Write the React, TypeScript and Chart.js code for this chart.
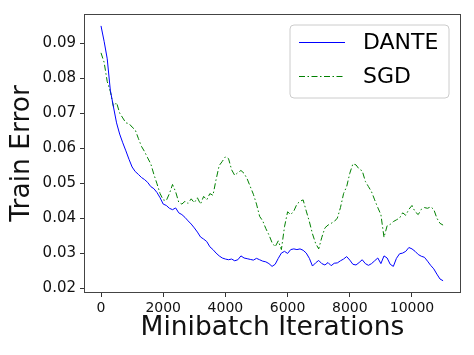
import React, { useEffect, useRef } from "react";
import { Chart, registerables } from "chart.js";

Chart.register(...registerables);

const ITERATIONS = [
  0, 100, 200, 300, 400, 500, 600, 700, 800, 900,
  1000, 1100, 1200, 1300, 1400, 1500, 1600, 1700, 1800, 1900,
  2000, 2100, 2200, 2300, 2400, 2500, 2600, 2700, 2800, 2900,
  3000, 3100, 3200, 3300, 3400, 3500, 3600, 3700, 3800, 3900,
  4000, 4100, 4200, 4300, 4400, 4500, 4600, 4700, 4800, 4900,
  5000, 5100, 5200, 5300, 5400, 5500, 5600, 5700, 5800, 5900,
  6000, 6100, 6200, 6300, 6400, 6500, 6600, 6700, 6800, 6900,
  7000, 7100, 7200, 7300, 7400, 7500, 7600, 7700, 7800, 7900,
  8000, 8100, 8200, 8300, 8400, 8500, 8600, 8700, 8800, 8900,
  9000, 9100, 9200, 9300, 9400, 9500, 9600, 9700, 9800, 9900,
  10000, 10100, 10200, 10300, 10400, 10500, 10600, 10700, 10800, 10900,
  11000,
];

const DANTE = [
  0.0949, 0.0905, 0.0855, 0.0765, 0.0718, 0.0672, 0.0640, 0.0615, 0.0592, 0.0568,
  0.0546, 0.0533, 0.0525, 0.0516, 0.0510, 0.0502, 0.0490, 0.0484, 0.0473, 0.0458,
  0.0440, 0.0436, 0.0428, 0.0424, 0.0429, 0.0415, 0.0410, 0.0402, 0.0392, 0.0383,
  0.0372, 0.0360, 0.0346, 0.0340, 0.0333, 0.0318, 0.0310, 0.0300, 0.0292, 0.0286,
  0.0283, 0.0281, 0.0283, 0.0278, 0.0281, 0.0292, 0.0286, 0.0284, 0.0282, 0.0280,
  0.0285, 0.0281, 0.0277, 0.0275, 0.0270, 0.0262, 0.0268, 0.0285, 0.0300, 0.0305,
  0.0299, 0.0310, 0.0312, 0.0310, 0.0312, 0.0308, 0.0300, 0.0285, 0.0263, 0.0272,
  0.0279, 0.0270, 0.0266, 0.0273, 0.0264, 0.0271, 0.0272, 0.0278, 0.0283, 0.0290,
  0.0280, 0.0268, 0.0266, 0.0273, 0.0281, 0.0270, 0.0265, 0.0270, 0.0278, 0.0286,
  0.0270, 0.0292, 0.0286, 0.0268, 0.0262, 0.0285, 0.0298, 0.0300, 0.0305, 0.0316,
  0.0312, 0.0305, 0.0296, 0.0291, 0.0288, 0.0277, 0.0265, 0.0255, 0.0240, 0.0226,
  0.0221,
];

const SGD = [
  0.0872, 0.0845, 0.0790, 0.0762, 0.0718, 0.0730, 0.0700, 0.0686, 0.0672, 0.0670,
  0.0660, 0.0652, 0.0628, 0.0605, 0.0590, 0.0572, 0.0555, 0.0525, 0.0498, 0.0470,
  0.0452, 0.0450, 0.0470, 0.0496, 0.0475, 0.0445, 0.0440, 0.0448, 0.0442, 0.0455,
  0.0444, 0.0458, 0.0440, 0.0462, 0.0452, 0.0470, 0.0465, 0.0510, 0.0550, 0.0562,
  0.0575, 0.0570, 0.0538, 0.0522, 0.0530, 0.0536, 0.0528, 0.0512, 0.0490, 0.0468,
  0.0440, 0.0405, 0.0392, 0.0370, 0.0352, 0.0330, 0.0318, 0.0335, 0.0310, 0.0375,
  0.0418, 0.0410, 0.0420, 0.0440, 0.0448, 0.0452, 0.0420, 0.0390, 0.0355, 0.0328,
  0.0312, 0.0345, 0.0372, 0.0380, 0.0385, 0.0390, 0.0400, 0.0430, 0.0470, 0.0490,
  0.0528, 0.0555, 0.0552, 0.0540, 0.0535, 0.0505, 0.0490, 0.0475, 0.0452, 0.0430,
  0.0410, 0.0345, 0.0378, 0.0382, 0.0390, 0.0395, 0.0400, 0.0415, 0.0408, 0.0425,
  0.0436, 0.0418, 0.0410, 0.0425, 0.0430, 0.0428, 0.0432, 0.0425, 0.0400, 0.0385,
  0.0380,
];

const X_TICKS = [0, 2000, 4000, 6000, 8000, 10000];
const Y_TICKS = [0.02, 0.03, 0.04, 0.05, 0.06, 0.07, 0.08, 0.09];
const SERIES_NAMES = ["DANTE", "SGD"];

const FONT = "'DejaVu Sans', sans-serif";

const frameAndLegend = {
  id: "frameAndLegend",
  afterDatasetsDraw(chart: any) {
    const { ctx, chartArea } = chart;
    const { left, top, right, bottom } = chartArea;
    ctx.save();
    ctx.strokeStyle = "#444444";
    ctx.lineWidth = 1;
    ctx.strokeRect(Math.round(left) + 0.5, Math.round(top) + 0.5, Math.round(right - left) - 1, Math.round(bottom - top) - 1);

    // legend box
    const bx = right - 171;
    const by = top + 11;
    const bw = 159;
    const bh = 73;
    const r = 4;
    ctx.beginPath();
    ctx.moveTo(bx + r, by);
    ctx.lineTo(bx + bw - r, by);
    ctx.quadraticCurveTo(bx + bw, by, bx + bw, by + r);
    ctx.lineTo(bx + bw, by + bh - r);
    ctx.quadraticCurveTo(bx + bw, by + bh, bx + bw - r, by + bh);
    ctx.lineTo(bx + r, by + bh);
    ctx.quadraticCurveTo(bx, by + bh, bx, by + bh - r);
    ctx.lineTo(bx, by + r);
    ctx.quadraticCurveTo(bx, by, bx + r, by);
    ctx.closePath();
    ctx.fillStyle = "rgba(255,255,255,0.8)";
    ctx.fill();
    ctx.strokeStyle = "#cccccc";
    ctx.stroke();

    const rowsY = [by + 17.5, by + 51.5];
    chart.data.datasets.forEach((ds: any, i: number) => {
      const y = rowsY[i];
      ctx.beginPath();
      ctx.setLineDash(ds.borderDash || []);
      ctx.strokeStyle = ds.borderColor;
      ctx.lineWidth = ds.borderWidth;
      ctx.moveTo(bx + 9, y);
      ctx.lineTo(bx + 55, y);
      ctx.stroke();
      ctx.setLineDash([]);
      ctx.fillStyle = "#000000";
      ctx.font = `22px ${FONT}`;
      ctx.textBaseline = "middle";
      ctx.textAlign = "left";
      ctx.fillText(ds.label, bx + 73, y + 1);
    });
    ctx.restore();
  },
};

export default function App() {
  const ref = useRef<HTMLCanvasElement | null>(null);

  useEffect(() => {
    document.body.style.margin = "0";
    const canvas = ref.current;
    if (!canvas) return;
    const chart = new Chart(canvas, {
      type: "line",
      data: {
        datasets: [
          {
            label: SERIES_NAMES[0],
            data: ITERATIONS.map((x, i) => ({ x, y: DANTE[i] })),
            borderColor: "#0000ff",
            borderWidth: 1,
            pointRadius: 0,
            tension: 0,
            fill: false,
          },
          {
            label: SERIES_NAMES[1],
            data: ITERATIONS.map((x, i) => ({ x, y: SGD[i] })),
            borderColor: "#008000",
            borderWidth: 1,
            borderDash: [6, 2.5, 1.5, 2.5],
            pointRadius: 0,
            tension: 0,
            fill: false,
          },
        ],
      },
      options: {
        animation: false,
        responsive: false,
        maintainAspectRatio: false,
        layout: { padding: { left: 0, top: 14, right: 13, bottom: 0 } },
        plugins: { legend: { display: false }, tooltip: { enabled: false } },
        scales: {
          x: {
            type: "linear",
            min: -547,
            max: 11576,
            afterBuildTicks: (scale: any) => {
              scale.ticks = X_TICKS.map((v) => ({ value: v }));
            },
            afterFit: (scale: any) => {
              scale.height = 62;
            },
            grid: { display: true, drawOnChartArea: false, tickLength: 4, tickColor: "#333333" },
            border: { display: false },
            ticks: {
              color: "#111111",
              font: { family: FONT, size: 14 },
              padding: 3,
              maxRotation: 0,
              callback: (v: any) => String(v),
            },
            title: {
              display: true,
              text: "Minibatch Iterations",
              color: "#111111",
              font: { family: FONT, size: 26.5 },
              padding: { top: 0, bottom: 11 },
            },
          },
          y: {
            type: "linear",
            min: 0.0186,
            max: 0.0983,
            afterBuildTicks: (scale: any) => {
              scale.ticks = Y_TICKS.map((v) => ({ value: v }));
            },
            afterFit: (scale: any) => {
              scale.width = 84;
            },
            grid: { display: true, drawOnChartArea: false, tickLength: 4, tickColor: "#333333" },
            border: { display: false },
            ticks: {
              color: "#111111",
              font: { family: FONT, size: 15 },
              padding: 4,
              callback: (v: any) => Number(v).toFixed(2),
            },
            title: {
              display: true,
              text: "Train Error",
              color: "#111111",
              font: { family: FONT, size: 26.5 },
              padding: { top: 6, bottom: 0 },
            },
          },
        },
      },
      plugins: [frameAndLegend],
    });
    return () => chart.destroy();
  }, []);

  return (
    <div style={{ position: "absolute", left: 0, top: 0, width: 474, height: 355, background: "#ffffff" }}>
      <canvas ref={ref} width={474} height={355} />
    </div>
  );
}
